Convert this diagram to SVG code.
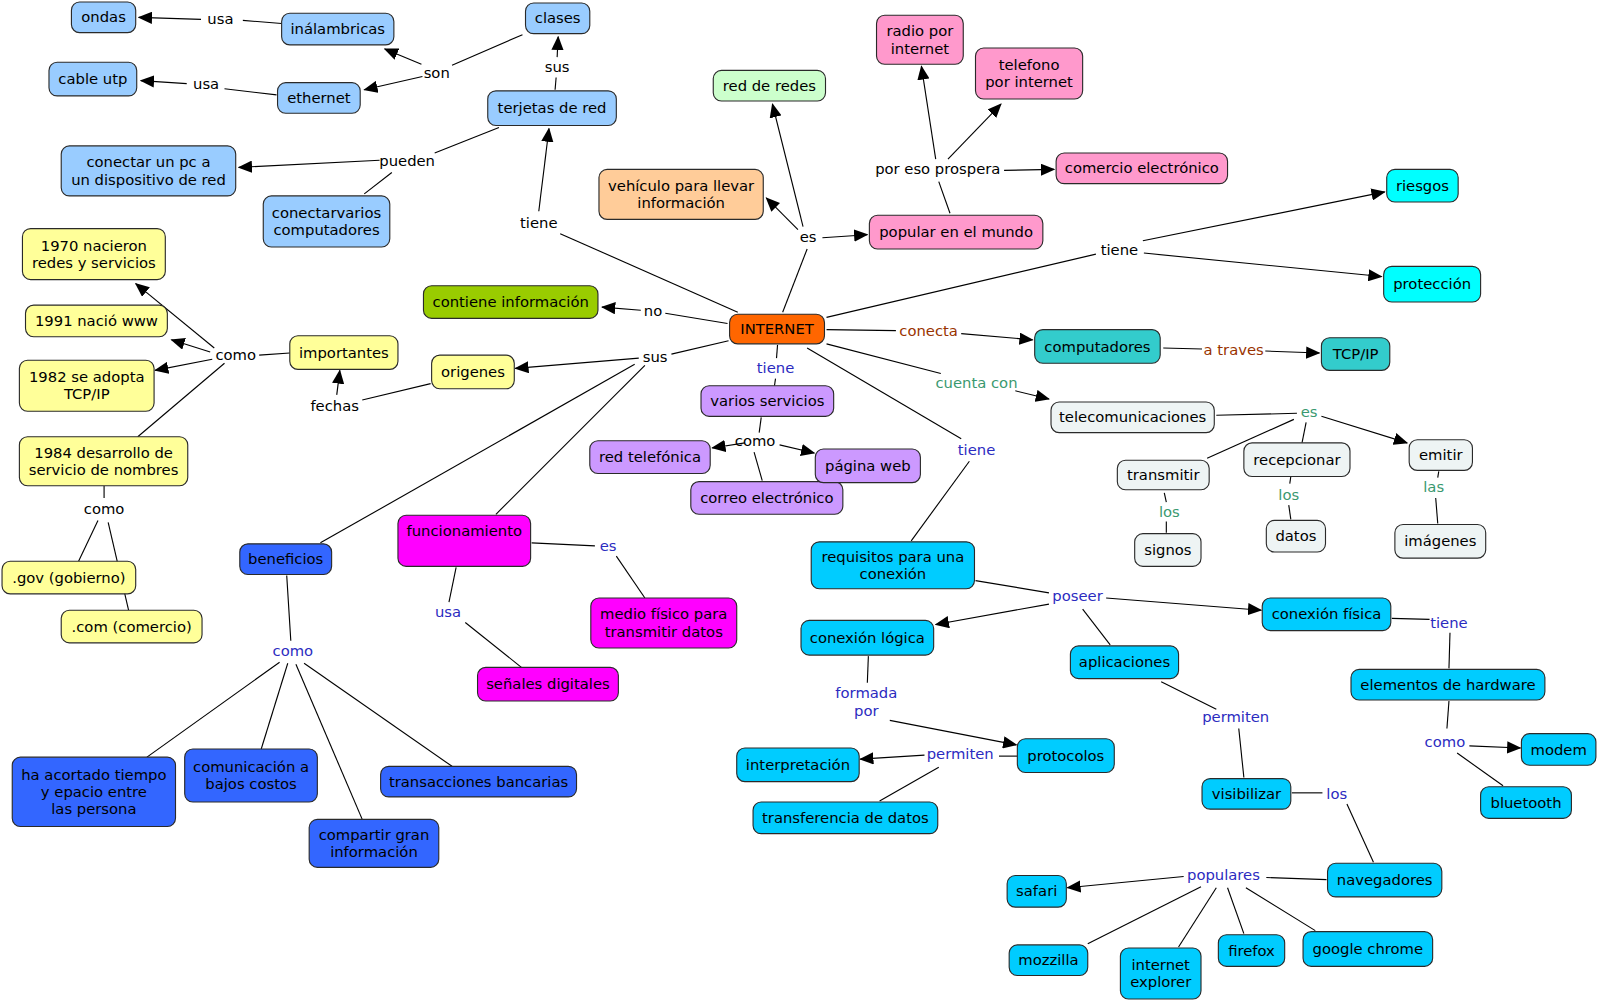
<svg xmlns="http://www.w3.org/2000/svg" width="1600" height="1002" viewBox="0 0 1600 1002">
<style>
text{font-family:"DejaVu Sans",Verdana,sans-serif;font-size:14.5px;text-anchor:middle;fill:#000}
.n rect{stroke:#2a2a2a;stroke-width:1.1}
.lb rect{fill:#99CCFF}.y rect{fill:#FFFF99}.og rect{fill:#99CC00}.lg rect{fill:#CCFFCC}
.or rect{fill:#FFCC99}.in rect{fill:#FF6600}.pk rect{fill:#FF99CC}.cy rect{fill:#00FFFF}
.tl rect{fill:#33CCCC}.gr rect{fill:#EEF4F4}.pu rect{fill:#CC99FF}.mg rect{fill:#FF00FF}
.bl rect{fill:#3366FF}.sk rect{fill:#00CCFF}
#connectors path{stroke:#000;stroke-width:1.1;fill:none}
#connectors path.a{marker-end:url(#arr)}
.lp text.b{fill:#2B2BBF}.lp text.g{fill:#3A9970}.lp text.r{fill:#993300}
</style>
<defs>
<marker id="arr" markerUnits="userSpaceOnUse" markerWidth="14" markerHeight="12" refX="13" refY="6" orient="auto">
<path d="M0,0 L14,6 L0,12 z" fill="#000"/>
</marker>
</defs>
<rect x="0" y="0" width="1600" height="1002" fill="#fff"/>
<g transform="scale(1.0204)">
<g id="connectors">
<path d="M276,23 L238,20"/><path class="a" d="M197,19 L136,17"/>
<path d="M271,93 L220,87"/><path class="a" d="M183,82 L138,79"/>
<path d="M512,34 L443,64"/><path class="a" d="M413,63 L377,48"/><path class="a" d="M414,75 L357,88"/>
<path d="M544,88 L545,76"/><path class="a" d="M546,56 L547,36"/>
<path d="M723,306 L549,229"/><path class="a" d="M528,207 L538,126"/>
<path d="M489,125 L426,150"/><path class="a" d="M372,157 L234,164"/><path d="M384,169 L357,190"/>
<path d="M713,317 L652,307"/><path class="a" d="M628,304 L590,301"/>
<path d="M767,306 L791,244"/><path class="a" d="M787,222 L757,102"/><path class="a" d="M782,225 L751,194"/><path class="a" d="M806,233 L850,230"/>
<path d="M931,209 L920,178"/><path class="a" d="M917,156 L903,65"/><path class="a" d="M929,156 L981,102"/><path class="a" d="M984,167 L1033,166"/>
<path d="M810,311 L1074,249"/><path class="a" d="M1120,236 L1357,188"/><path class="a" d="M1121,248 L1354,271"/>
<path d="M810,323 L878,324"/><path class="a" d="M942,327 L1012,333"/>
<path d="M1140,341 L1178,342"/><path class="a" d="M1240,344 L1293,346"/>
<path d="M810,337 L922,366"/><path class="a" d="M995,383 L1028,391"/>
<path d="M1192,407 L1271,405"/><path class="a" d="M1295,408 L1379,434"/><path d="M1268,411 L1183,449"/><path d="M1280,414 L1276,434"/>
<path d="M1141,483 L1143,492"/><path d="M1143,511 L1143,522"/>
<path d="M1265,467 L1264,474"/><path d="M1263,495 L1265,509"/>
<path d="M1410,462 L1409,468"/><path d="M1407,488 L1409,513"/>
<path d="M762,338 L761,351"/><path d="M760,371 L759,378"/>
<path d="M746,409 L744,424"/><path class="a" d="M730,434 L698,439"/><path class="a" d="M764,436 L798,444"/><path d="M739,443 L747,471"/>
<path d="M791,341 L942,430"/><path d="M950,452 L893,530"/>
<path d="M956,569 L1028,581"/><path class="a" d="M1028,592 L917,612"/><path class="a" d="M1084,586 L1236,598"/><path d="M1061,597 L1088,632"/>
<path d="M1364,606 L1401,607"/><path d="M1421,620 L1420,655"/>
<path d="M1420,687 L1418,714"/><path class="a" d="M1440,731 L1490,733"/><path d="M1428,738 L1473,770"/>
<path d="M1138,668 L1192,695"/><path d="M1214,714 L1219,762"/>
<path d="M1266,777 L1296,777"/><path d="M1320,788 L1346,845"/>
<path d="M1300,862 L1241,860"/><path class="a" d="M1160,859 L1046,870"/><path d="M1177,869 L1066,925"/><path d="M1192,870 L1155,928"/><path d="M1203,870 L1219,915"/><path d="M1221,870 L1289,912"/>
<path d="M851,643 L850,669"/><path class="a" d="M872,706 L996,730"/>
<path d="M997,741 L979,741"/><path class="a" d="M906,740 L843,744"/><path d="M920,752 L862,785"/>
<path d="M714,334 L658,347"/><path class="a" d="M626,351 L505,361"/><path d="M622,357 L314,532"/><path d="M632,358 L486,504"/>
<path d="M422,376 L355,392"/><path class="a" d="M330,387 L333,363"/>
<path d="M284,346 L254,348"/><path class="a" d="M210,341 L133,278"/><path class="a" d="M206,345 L168,333"/><path class="a" d="M208,352 L152,363"/><path d="M220,356 L135,428"/>
<path d="M102,476 L102,488"/><path d="M96,510 L77,550"/><path d="M106,512 L126,598"/>
<path d="M281,564 L285,628"/><path d="M274,649 L144,742"/><path d="M282,650 L256,734"/><path d="M290,651 L355,803"/><path d="M298,650 L443,751"/>
<path d="M521,532 L583,535"/><path d="M604,545 L632,586"/>
<path d="M447,556 L440,590"/><path d="M456,610 L511,654"/>
</g>
<g id="links" class="lp">
<text x="216" y="24">usa</text>
<text x="202" y="87">usa</text>
<text x="428" y="76">son</text>
<text x="546" y="71">sus</text>
<text x="528" y="223">tiene</text>
<text x="399" y="163">pueden</text>
<text x="640" y="310">no</text>
<text x="792" y="237">es</text>
<text x="919" y="171">por eso prospera</text>
<text x="1097" y="250">tiene</text>
<text class="r" x="910" y="329">conecta</text>
<text class="r" x="1209" y="348">a traves</text>
<text class="g" x="957" y="380">cuenta con</text>
<text class="g" x="1283" y="409">es</text>
<text class="g" x="1146" y="507">los</text>
<text class="g" x="1263" y="490">los</text>
<text class="g" x="1405" y="482">las</text>
<text class="b" x="760" y="366">tiene</text>
<text x="740" y="437">como</text>
<text class="b" x="957" y="446">tiene</text>
<text class="b" x="1056" y="589">poseer</text>
<text class="b" x="1420" y="615">tiene</text>
<text class="b" x="1416" y="732">como</text>
<text class="b" x="1211" y="708">permiten</text>
<text class="b" x="1310" y="783">los</text>
<text class="b" x="1199" y="862">populares</text>
<text class="b" x="849" y="684">formada</text>
<text class="b" x="849" y="702">por</text>
<text class="b" x="941" y="744">permiten</text>
<text x="642" y="355">sus</text>
<text x="328" y="403">fechas</text>
<text x="231" y="353">como</text>
<text x="102" y="504">como</text>
<text class="b" x="287" y="643">como</text>
<text class="b" x="596" y="540">es</text>
<text class="b" x="439" y="605">usa</text>
</g>
<g id="n-ondas" class="n lb"><rect x="70" y="2" width="63" height="30" rx="8"/><text x="101.5" y="22">ondas</text></g>
<g id="n-inalambricas" class="n lb"><rect x="276" y="13" width="110" height="31" rx="8"/><text x="331" y="33.5">inálambricas</text></g>
<g id="n-clases" class="n lb"><rect x="515" y="3" width="63" height="30" rx="8"/><text x="546.5" y="23">clases</text></g>
<g id="n-cableutp" class="n lb"><rect x="48" y="61" width="86" height="33" rx="8"/><text x="91" y="82.5">cable utp</text></g>
<g id="n-ethernet" class="n lb"><rect x="272" y="81" width="81" height="30" rx="8"/><text x="312.5" y="101">ethernet</text></g>
<g id="n-terjetas" class="n lb"><rect x="478" y="89" width="126" height="34" rx="8"/><text x="541" y="111">terjetas de red</text></g>
<g id="n-conectar" class="n lb"><rect x="60" y="143" width="171" height="49" rx="8"/><text x="145.5" y="164">conectar un pc a</text><text x="145.5" y="181">un dispositivo de red</text></g>
<g id="n-conectarvarios" class="n lb"><rect x="258" y="192" width="124" height="50" rx="8"/><text x="320" y="213.5">conectarvarios</text><text x="320" y="230.5">computadores</text></g>
<g id="n-1970" class="n y"><rect x="22" y="224" width="140" height="50" rx="8"/><text x="92" y="245.5">1970 nacieron</text><text x="92" y="262.5">redes y servicios</text></g>
<g id="n-1991" class="n y"><rect x="25" y="299" width="139" height="31" rx="8"/><text x="94.5" y="319.5">1991 nació www</text></g>
<g id="n-1982" class="n y"><rect x="19" y="353" width="132" height="50" rx="8"/><text x="85" y="374.5">1982 se adopta</text><text x="85" y="391.5">TCP/IP</text></g>
<g id="n-importantes" class="n y"><rect x="284" y="329" width="106" height="33" rx="8"/><text x="337" y="350.5">importantes</text></g>
<g id="n-origenes" class="n y"><rect x="423" y="348" width="81" height="33" rx="8"/><text x="463.5" y="369.5">origenes</text></g>
<g id="n-1984" class="n y"><rect x="19" y="428" width="165" height="48" rx="8"/><text x="101.5" y="448.5">1984 desarrollo de</text><text x="101.5" y="465.5">servicio de nombres</text></g>
<g id="n-com" class="n y"><rect x="60" y="598" width="138" height="32" rx="8"/><text x="129" y="619">.com (comercio)</text></g>
<g id="n-gov" class="n y"><rect x="2" y="550" width="131" height="32" rx="8"/><text x="67.5" y="571">.gov (gobierno)</text></g>
<g id="n-contiene" class="n og"><rect x="415" y="280" width="171" height="32" rx="8"/><text x="500.5" y="301">contiene información</text></g>
<g id="n-reddered" class="n lg"><rect x="699" y="69" width="110" height="30" rx="8"/><text x="754" y="89">red de redes</text></g>
<g id="n-vehiculo" class="n or"><rect x="587" y="166" width="161" height="49" rx="8"/><text x="667.5" y="187">vehículo para llevar</text><text x="667.5" y="204">información</text></g>
<g id="n-internet" class="n in"><rect x="715" y="308" width="93" height="29" rx="8"/><text x="761.5" y="327.5">INTERNET</text></g>
<g id="n-radio" class="n pk"><rect x="859" y="15" width="85" height="48" rx="8"/><text x="901.5" y="35.5">radio por</text><text x="901.5" y="52.5">internet</text></g>
<g id="n-telefono" class="n pk"><rect x="956" y="47" width="105" height="50" rx="8"/><text x="1008.5" y="68.5">telefono</text><text x="1008.5" y="85.5">por internet</text></g>
<g id="n-comercio" class="n pk"><rect x="1035" y="150" width="168" height="30" rx="8"/><text x="1119" y="170">comercio electrónico</text></g>
<g id="n-popular" class="n pk"><rect x="852" y="211" width="170" height="33" rx="8"/><text x="937" y="232.5">popular en el mundo</text></g>
<g id="n-riesgos" class="n cy"><rect x="1359" y="166" width="70" height="32" rx="8"/><text x="1394" y="187">riesgos</text></g>
<g id="n-proteccion" class="n cy"><rect x="1356" y="261" width="95" height="35" rx="8"/><text x="1403.5" y="283.5">protección</text></g>
<g id="n-computadores" class="n tl"><rect x="1014" y="323" width="123" height="33" rx="8"/><text x="1075.5" y="344.5">computadores</text></g>
<g id="n-tcpip" class="n tl"><rect x="1295" y="331" width="67" height="32" rx="8"/><text x="1328.5" y="352">TCP/IP</text></g>
<g id="n-telecom" class="n gr"><rect x="1030" y="394" width="160" height="30" rx="8"/><text x="1110" y="414">telecomunicaciones</text></g>
<g id="n-transmitir" class="n gr"><rect x="1095" y="451" width="90" height="29" rx="8"/><text x="1140" y="470.5">transmitir</text></g>
<g id="n-recepcionar" class="n gr"><rect x="1219" y="434" width="104" height="33" rx="8"/><text x="1271" y="455.5">recepcionar</text></g>
<g id="n-emitir" class="n gr"><rect x="1381" y="431" width="62" height="30" rx="8"/><text x="1412" y="451">emitir</text></g>
<g id="n-signos" class="n gr"><rect x="1112" y="523" width="65" height="32" rx="8"/><text x="1144.5" y="544">signos</text></g>
<g id="n-datos" class="n gr"><rect x="1241" y="510" width="58" height="31" rx="8"/><text x="1270" y="530.5">datos</text></g>
<g id="n-imagenes" class="n gr"><rect x="1367" y="514" width="89" height="33" rx="8"/><text x="1411.5" y="535.5">imágenes</text></g>
<g id="n-varios" class="n pu"><rect x="687" y="378" width="130" height="30" rx="8"/><text x="752" y="398">varios servicios</text></g>
<g id="n-redtel" class="n pu"><rect x="578" y="432" width="118" height="32" rx="8"/><text x="637" y="453">red telefónica</text></g>
<g id="n-correo" class="n pu"><rect x="677" y="472" width="149" height="32" rx="8"/><text x="751.5" y="493">correo electrónico</text></g>
<g id="n-paginaweb" class="n pu"><rect x="799" y="440" width="103" height="33" rx="8"/><text x="850.5" y="461.5">página web</text></g>
<g id="n-funcionamiento" class="n mg"><rect x="390" y="505" width="130" height="50" rx="8"/><text x="455" y="525">funcionamiento</text></g>
<g id="n-medio" class="n mg"><rect x="579" y="586" width="143" height="49" rx="8"/><text x="650.5" y="607">medio físico para</text><text x="650.5" y="624">transmitir datos</text></g>
<g id="n-senales" class="n mg"><rect x="468" y="654" width="138" height="33" rx="8"/><text x="537" y="675.5">señales digitales</text></g>
<g id="n-beneficios" class="n bl"><rect x="235" y="533" width="90" height="30" rx="8"/><text x="280" y="553">beneficios</text></g>
<g id="n-haacortado" class="n bl"><rect x="12" y="742" width="160" height="68" rx="8"/><text x="92" y="764">ha acortado tiempo</text><text x="92" y="781">y epacio entre</text><text x="92" y="798">las persona</text></g>
<g id="n-comunicacion" class="n bl"><rect x="181" y="734" width="130" height="52" rx="8"/><text x="246" y="756.5">comunicación a</text><text x="246" y="773.5">bajos costos</text></g>
<g id="n-compartir" class="n bl"><rect x="303" y="803" width="127" height="47" rx="8"/><text x="366.5" y="823">compartir gran</text><text x="366.5" y="840">información</text></g>
<g id="n-transacciones" class="n bl"><rect x="373" y="751" width="192" height="30" rx="8"/><text x="469" y="771">transacciones bancarias</text></g>
<g id="n-requisitos" class="n sk"><rect x="795" y="531" width="160" height="46" rx="8"/><text x="875" y="550.5">requisitos para una</text><text x="875" y="567.5">conexión</text></g>
<g id="n-conexlogica" class="n sk"><rect x="785" y="608" width="130" height="34" rx="8"/><text x="850" y="630">conexión lógica</text></g>
<g id="n-conexfisica" class="n sk"><rect x="1237" y="586" width="126" height="32" rx="8"/><text x="1300" y="607">conexión física</text></g>
<g id="n-aplicaciones" class="n sk"><rect x="1049" y="633" width="106" height="32" rx="8"/><text x="1102" y="654">aplicaciones</text></g>
<g id="n-elementos" class="n sk"><rect x="1324" y="656" width="190" height="30" rx="8"/><text x="1419" y="676">elementos de hardware</text></g>
<g id="n-interpretacion" class="n sk"><rect x="722" y="733" width="120" height="33" rx="8"/><text x="782" y="754.5">interpretación</text></g>
<g id="n-protocolos" class="n sk"><rect x="997" y="724" width="95" height="33" rx="8"/><text x="1044.5" y="745.5">protocolos</text></g>
<g id="n-transferencia" class="n sk"><rect x="738" y="786" width="181" height="31" rx="8"/><text x="828.5" y="806.5">transferencia de datos</text></g>
<g id="n-visibilizar" class="n sk"><rect x="1178" y="763" width="87" height="30" rx="8"/><text x="1221.5" y="783">visibilizar</text></g>
<g id="n-modem" class="n sk"><rect x="1491" y="719" width="73" height="31" rx="8"/><text x="1527.5" y="739.5">modem</text></g>
<g id="n-bluetooth" class="n sk"><rect x="1451" y="771" width="89" height="31" rx="8"/><text x="1495.5" y="791.5">bluetooth</text></g>
<g id="n-navegadores" class="n sk"><rect x="1301" y="846" width="112" height="33" rx="8"/><text x="1357" y="867.5">navegadores</text></g>
<g id="n-safari" class="n sk"><rect x="987" y="858" width="58" height="31" rx="8"/><text x="1016" y="878.5">safari</text></g>
<g id="n-mozzilla" class="n sk"><rect x="989" y="926" width="77" height="30" rx="8"/><text x="1027.5" y="946">mozzilla</text></g>
<g id="n-explorer" class="n sk"><rect x="1098" y="929" width="79" height="50" rx="8"/><text x="1137.5" y="950.5">internet</text><text x="1137.5" y="967.5">explorer</text></g>
<g id="n-firefox" class="n sk"><rect x="1194" y="916" width="65" height="31" rx="8"/><text x="1226.5" y="936.5">firefox</text></g>
<g id="n-chrome" class="n sk"><rect x="1277" y="913" width="127" height="34" rx="8"/><text x="1340.5" y="935">google chrome</text></g>
</g>
</svg>
